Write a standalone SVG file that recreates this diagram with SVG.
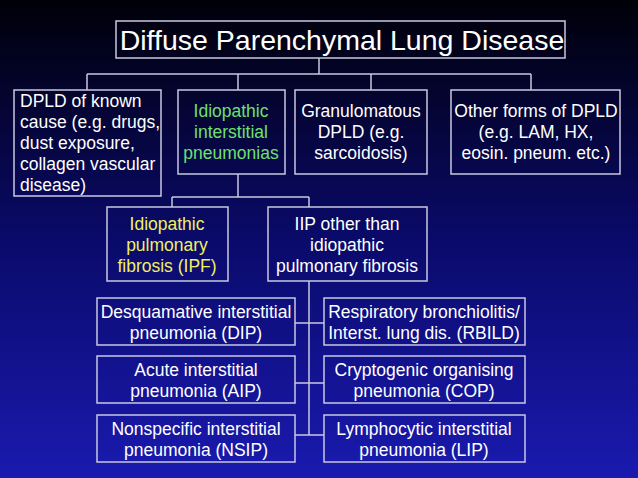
<svg xmlns="http://www.w3.org/2000/svg" width="638" height="478" viewBox="0 0 638 478">
<defs>
<linearGradient id="bg" x1="0" y1="0" x2="0" y2="1">
<stop offset="0" stop-color="#000008"/>
<stop offset="0.5" stop-color="#0a0a6a"/>
<stop offset="1" stop-color="#1a1ab0"/>
</linearGradient>
<style>
rect.b{fill:none;stroke:#c8c8e0;stroke-width:1.5}
text{font-family:"Liberation Sans",Arial,sans-serif;font-size:17.5px;fill:#fff}
.c{text-anchor:middle}
.g{fill:#6ee06e}
.y{fill:#f0f060}
#conn path{fill:none;stroke:#c8c8e0;stroke-width:1.5}
</style>
</defs>
<rect width="638" height="478" fill="url(#bg)"/>
<g id="conn">
<path d="M319 58V74M87 74H531M87 74V90M238 74V90M371 74V90M531 74V90"/>
<path d="M238 174V197M172 197H309M172 197V207M309 197V207"/>
<path d="M309 281V435M295 323H324M295 383H324M295 435H324"/>
</g>
<g id="title"><rect class="b" x="116" y="21" width="449" height="37"/><text x="342" y="50" class="c" style="font-size:28.5px">Diffuse Parenchymal Lung Disease</text></g>
<g id="known"><rect class="b" x="14" y="90" width="147" height="106"/>
<text x="20" y="107">DPLD of known</text><text x="20" y="128">cause (e.g. drugs,</text><text x="20" y="149">dust exposure,</text><text x="20" y="170">collagen vascular</text><text x="20" y="191">disease)</text></g>
<g id="iip"><rect class="b" x="178" y="90" width="107" height="84"/>
<text x="231" y="117" class="c g">Idiopathic</text><text x="231" y="138" class="c g">interstitial</text><text x="231" y="159" class="c g">pneumonias</text></g>
<g id="gran"><rect class="b" x="295" y="90" width="132" height="84"/>
<text x="361" y="117" class="c">Granulomatous</text><text x="361" y="138" class="c">DPLD (e.g.</text><text x="361" y="159" class="c">sarcoidosis)</text></g>
<g id="other"><rect class="b" x="451" y="90" width="169" height="84"/>
<text x="536" y="117" class="c">Other forms of DPLD</text><text x="536" y="138" class="c">(e.g. LAM, HX,</text><text x="536" y="159" class="c">eosin. pneum. etc.)</text></g>
<g id="ipf"><rect class="b" x="107" y="207" width="121" height="74"/>
<text x="167" y="230" class="c y">Idiopathic</text><text x="167" y="251" class="c y">pulmonary</text><text x="167" y="272" class="c y">fibrosis (IPF)</text></g>
<g id="iipother"><rect class="b" x="268" y="207" width="159" height="74"/>
<text x="347" y="230" class="c">IIP other than</text><text x="347" y="251" class="c">idiopathic</text><text x="347" y="272" class="c">pulmonary fibrosis</text></g>
<g id="dip"><rect class="b" x="97" y="298" width="198" height="47"/><text x="196" y="318" class="c">Desquamative interstitial</text><text x="196" y="339" class="c">pneumonia (DIP)</text></g>
<g id="aip"><rect class="b" x="97" y="356" width="198" height="47"/><text x="196" y="376" class="c">Acute interstitial</text><text x="196" y="397" class="c">pneumonia (AIP)</text></g>
<g id="nsip"><rect class="b" x="97" y="415" width="198" height="47"/><text x="196" y="435" class="c">Nonspecific interstitial</text><text x="196" y="456" class="c">pneumonia (NSIP)</text></g>
<g id="rbild"><rect class="b" x="324" y="298" width="201" height="47"/><text x="424" y="318" class="c">Respiratory bronchiolitis/</text><text x="424" y="339" class="c">Interst. lung dis. (RBILD)</text></g>
<g id="cop"><rect class="b" x="324" y="356" width="201" height="47"/><text x="424" y="376" class="c">Cryptogenic organising</text><text x="424" y="397" class="c">pneumonia (COP)</text></g>
<g id="lip"><rect class="b" x="324" y="415" width="201" height="47"/><text x="424" y="435" class="c">Lymphocytic interstitial</text><text x="424" y="456" class="c">pneumonia (LIP)</text></g>
</svg>
